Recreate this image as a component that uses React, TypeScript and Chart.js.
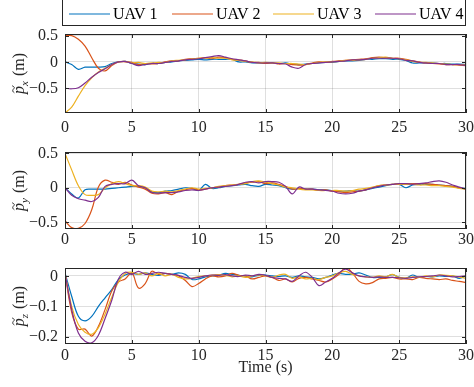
import React, { useEffect, useRef } from "react";
import { Chart, registerables } from "chart.js";

Chart.register(...registerables);

// ---------------- data ----------------
const TIME = [
  0, 0.5, 1, 1.5, 2, 2.5, 3, 3.5, 4, 4.5,
  5, 5.5, 6, 6.5, 7, 7.5, 8, 8.5, 9, 9.5,
  10, 10.5, 11, 11.5, 12, 12.5, 13, 13.5, 14, 14.5,
  15, 15.5, 16, 16.5, 17, 17.5, 18, 18.5, 19, 19.5,
  20, 20.5, 21, 21.5, 22, 22.5, 23, 23.5, 24, 24.5,
  25, 25.5, 26, 26.5, 27, 27.5, 28, 28.5, 29, 29.5, 30,
];

const SERIES_NAMES = ["UAV 1", "UAV 2", "UAV 3", "UAV 4"];

// p_x error
const PX_UAV1 = [
  0, -0.05, -0.14, -0.1, -0.1, -0.1, -0.09, -0.03, 0, 0.01,
  -0.03, -0.04, -0.05, -0.03, -0.03, -0.01, 0, 0.02, 0.03, 0.04,
  0.05, 0.04, 0.05, 0.05, 0.05, 0.05, 0, 0, -0.02, -0.02,
  -0.03, -0.02, -0.03, -0.02, -0.04, -0.05, -0.04, -0.03, -0.02, -0.01,
  -0.01, 0.01, 0.02, 0.02, 0.03, 0.05, 0.05, 0.06, 0.06, 0.05,
  0.05, 0.03, -0.02, -0.02, -0.02, -0.02, -0.03, -0.03, -0.04, -0.04, -0.05,
];
const PX_UAV2 = [
  0.5, 0.5, 0.43, 0.3, 0.08, -0.12, -0.17, -0.07, 0, 0,
  -0.01, -0.05, -0.03, -0.04, -0.03, 0, 0.02, 0.02, 0.05, 0.06,
  0.07, 0.08, 0.06, 0.09, 0.08, 0.05, 0.04, 0.02, -0.01, -0.01,
  -0.03, -0.02, -0.04, -0.03, -0.05, -0.06, -0.05, -0.02, 0, -0.01,
  0.01, 0.02, 0.03, 0.04, 0.05, 0.06, 0.08, 0.09, 0.08, 0.07,
  0.07, 0.05, 0.02, 0, -0.02, -0.03, -0.04, -0.05, -0.05, -0.06, -0.07,
];
const PX_UAV3 = [
  -0.97, -0.86, -0.65, -0.45, -0.3, -0.19, -0.12, -0.05, 0, 0.01,
  -0.02, -0.01, -0.03, -0.02, -0.01, -0.01, 0.02, 0.03, 0.04, 0.06,
  0.07, 0.07, 0.08, 0.07, 0.07, 0.04, 0.03, 0.01, 0, -0.02,
  -0.01, -0.02, -0.02, -0.03, -0.03, -0.04, -0.05, -0.03, -0.01, 0,
  0, 0.01, 0.03, 0.03, 0.04, 0.05, 0.07, 0.08, 0.09, 0.07,
  0.06, 0.04, 0.01, -0.01, -0.01, -0.02, -0.03, -0.04, -0.05, -0.05, -0.06,
];
const PX_UAV4 = [
  -0.5, -0.51, -0.49, -0.4, -0.29, -0.2, -0.13, -0.05, 0, 0.01,
  -0.03, -0.07, -0.05, -0.03, -0.03, -0.01, 0.01, 0.02, 0.04, 0.05,
  0.06, 0.08, 0.1, 0.12, 0.09, 0.06, 0.04, 0.02, -0.01, -0.02,
  -0.02, -0.02, -0.03, -0.04, -0.1, -0.12, -0.05, -0.03, -0.02, -0.01,
  0, 0.01, 0.02, 0.04, 0.04, 0.05, 0.07, 0.07, 0.07, 0.07,
  0.06, 0.03, 0.02, -0.01, -0.02, -0.03, -0.03, -0.05, -0.05, -0.05, -0.07,
];

// p_y error
const PY_UAV1 = [
  0, -0.09, -0.15, -0.03, -0.02, -0.02, -0.02, -0.01, 0, 0.01,
  0.02, 0.02, 0, -0.06, -0.07, -0.05, -0.04, -0.02, 0, -0.01,
  -0.04, 0.05, -0.01, 0, 0.02, 0.03, 0.04, 0.05, 0.03, 0.02,
  0.05, 0.04, 0.03, 0, -0.02, -0.01, -0.02, -0.02, -0.03, -0.03,
  -0.04, -0.05, -0.05, -0.04, -0.05, -0.03, -0.01, 0.01, 0.03, 0.05,
  0.05, 0, 0.04, 0.05, 0.05, 0.05, 0.04, 0.03, 0.02, 0, -0.01,
];
const PY_UAV2 = [
  -0.48, -0.58, -0.59, -0.52, -0.32, 0.01, 0.11, 0.08, 0.05, 0.08,
  0.04, 0.01, -0.02, -0.08, -0.09, -0.07, -0.1, -0.05, -0.03, -0.01,
  -0.03, -0.02, 0, 0.01, 0.03, 0.04, 0.05, 0.07, 0.08, 0.09,
  0.06, 0.07, 0.05, 0.02, -0.02, -0.01, -0.02, -0.02, -0.04, -0.03,
  -0.05, -0.06, -0.07, -0.06, -0.05, -0.03, 0, 0.03, 0.04, 0.05,
  0.06, 0.06, 0.06, 0.06, 0.06, 0.05, 0.04, 0.03, 0.02, 0, -0.02,
];
const PY_UAV3 = [
  0.5, 0.26, 0.03, -0.1, -0.11, -0.1, 0, 0.06, 0.09, 0.06,
  0.03, 0.03, 0.01, -0.05, -0.06, -0.05, -0.06, -0.04, -0.02, 0,
  -0.02, -0.01, 0, 0.02, 0.03, 0.04, 0.05, 0.06, 0.09, 0.1,
  0.08, 0.06, 0.04, 0.01, 0, -0.02, -0.03, -0.03, -0.04, -0.04,
  -0.04, -0.04, -0.05, -0.04, -0.02, -0.01, 0.01, 0.03, 0.04, 0.05,
  0.05, 0.05, 0.05, 0.04, 0.04, 0.03, 0.03, 0.02, 0.01, -0.01, -0.02,
];
const PY_UAV4 = [
  0, -0.11, -0.16, -0.18, -0.2, -0.14, 0.02, 0.05, 0.06, 0.06,
  0.11, 0.03, 0, -0.07, -0.08, -0.07, -0.07, -0.06, -0.04, -0.03,
  -0.04, -0.02, 0, 0.01, 0.02, 0.03, 0.05, 0.08, 0.09, 0.07,
  0.09, 0.09, 0.08, 0.02, -0.09, 0.01, -0.02, -0.02, -0.03, -0.04,
  -0.05, -0.08, -0.09, -0.08, -0.05, -0.03, 0, 0.02, 0.04, 0.05,
  0.06, 0.06, 0.05, 0.06, 0.07, 0.09, 0.1, 0.08, 0.04, 0.01, -0.02,
];

// p_z error
const PZ_UAV1 = [
  0.01, -0.067, -0.133, -0.148, -0.133, -0.1, -0.072, -0.045, -0.012, 0.003,
  0.008, 0.005, 0.01, 0.005, 0.002, 0.008, 0.005, 0.01, 0.005, -0.012,
  -0.01, -0.003, 0, 0.002, 0.008, 0.005, 0.002, 0, -0.003, 0.002,
  0.003, 0, -0.002, 0, -0.005, 0, -0.003, -0.005, -0.01, -0.005,
  0.003, 0.008, 0.005, 0.006, 0.01, 0.003, -0.005, -0.005, -0.003, 0.004,
  -0.005, -0.008, 0.003, -0.005, -0.002, -0.003, 0, -0.002, 0, -0.008, 0,
];
const PZ_UAV2 = [
  0.01, -0.12, -0.175, -0.175, -0.198, -0.166, -0.11, -0.05, -0.02, -0.01,
  0.01, -0.04, -0.025, 0.015, 0.005, 0.008, 0.005, 0, -0.015, -0.035,
  -0.025, -0.01, 0, -0.003, 0, 0.008, 0.002, 0, -0.01, -0.005,
  0, -0.005, -0.015, -0.01, -0.02, -0.008, -0.005, -0.01, -0.015, -0.02,
  -0.01, 0.005, 0.028, 0.01, -0.018, -0.026, -0.022, -0.01, -0.008, -0.005,
  -0.01, -0.01, -0.012, -0.005, -0.008, -0.01, -0.012, -0.01, -0.015, -0.018, -0.022,
];
const PZ_UAV3 = [
  0.01, -0.1, -0.16, -0.185, -0.192, -0.17, -0.125, -0.07, -0.02, 0.008,
  0.012, 0.005, 0.01, 0, 0.008, 0, 0.005, -0.005, -0.01, -0.008,
  -0.002, 0, 0.003, 0.004, 0.002, -0.003, 0, -0.005, 0, 0.003,
  0, -0.005, 0.003, 0.005, -0.008, -0.003, -0.01, -0.008, -0.012, -0.005,
  0, 0.01, 0.015, 0.005, 0, -0.003, -0.005, 0, -0.003, 0.005,
  -0.005, -0.006, -0.003, -0.005, 0, -0.003, 0.003, 0.002, 0, -0.004, -0.008,
];
const PZ_UAV4 = [
  0.01, -0.11, -0.188, -0.215, -0.22, -0.195, -0.14, -0.08, -0.01, 0.012,
  0.005, 0.015, 0.005, 0.008, 0.012, 0.008, 0.005, 0.002, -0.005, -0.008,
  -0.005, 0, 0.003, 0.002, 0.004, 0, -0.002, 0.003, 0, 0.005,
  0.002, -0.005, -0.008, -0.01, -0.018, 0, 0.012, -0.005, -0.032, -0.02,
  -0.008, 0.01, 0.022, 0.01, 0, -0.003, -0.005, -0.003, -0.005, -0.005,
  -0.006, -0.008, -0.005, -0.003, -0.002, 0, 0.003, 0, -0.003, -0.002, 0,
];

const X_TICKS = [0, 5, 10, 15, 20, 25, 30];
const X_TICK_LABELS = ["0", "5", "10", "15", "20", "25", "30"];
const PX_TICKS = [-0.5, 0, 0.5];
const PX_TICK_LABELS = ["\u22120.5", "0", "0.5"];
const PY_TICKS = [-0.5, 0, 0.5];
const PY_TICK_LABELS = ["\u22120.5", "0", "0.5"];
const PZ_TICKS = [-0.2, -0.1, 0];
const PZ_TICK_LABELS = ["\u22120.2", "\u22120.1", "0"];
const X_TITLE = "Time (s)";

// ---------------- styling / layout ----------------
const W = 474;
const H = 387;
const COLORS = ["#0072BD", "#D95319", "#EDB120", "#7E2F8E"];
const AXIS_COLOR = "#262626";
const GRID_COLOR = "rgba(38,38,38,0.15)";
const FONT = '"Liberation Serif", "Times New Roman", serif';
const PLOT_LEFT = 65;
const PLOT_RIGHT = 466;

type Panel = {
  series: number[][];
  top: number;
  bottom: number;
  min: number;
  max: number;
  ticks: number[];
  tickLabels: string[];
  sub: string;
  xLabelBaseline: number;
  legend: boolean;
  xTitle: boolean;
};

const PANELS: Panel[] = [
  {
    series: [PX_UAV1, PX_UAV2, PX_UAV3, PX_UAV4],
    top: 34, bottom: 113, min: -0.97, max: 0.53,
    ticks: PX_TICKS, tickLabels: PX_TICK_LABELS, sub: "x",
    xLabelBaseline: 131.5, legend: true, xTitle: false,
  },
  {
    series: [PY_UAV1, PY_UAV2, PY_UAV3, PY_UAV4],
    top: 152, bottom: 229, min: -0.6, max: 0.52,
    ticks: PY_TICKS, tickLabels: PY_TICK_LABELS, sub: "y",
    xLabelBaseline: 244, legend: false, xTitle: false,
  },
  {
    series: [PZ_UAV1, PZ_UAV2, PZ_UAV3, PZ_UAV4],
    top: 268, bottom: 344, min: -0.224, max: 0.026,
    ticks: PZ_TICKS, tickLabels: PZ_TICK_LABELS, sub: "z",
    xLabelBaseline: 359.5, legend: false, xTitle: true,
  },
];

function drawDecorations(chart: any, p: Panel) {
  const ctx: CanvasRenderingContext2D = chart.ctx;
  const a = chart.chartArea;
  const xs = chart.scales.x;
  const ys = chart.scales.y;
  ctx.save();

  // box
  ctx.strokeStyle = AXIS_COLOR;
  ctx.lineWidth = 1;
  ctx.strokeRect(a.left + 0.5, a.top + 0.5, a.right - a.left - 1, a.bottom - a.top - 1);

  // inward tick marks
  const TL = 4;
  ctx.beginPath();
  X_TICKS.forEach((v) => {
    const x = Math.round(xs.getPixelForValue(v)) + 0.5;
    ctx.moveTo(x, a.bottom);
    ctx.lineTo(x, a.bottom - TL);
    ctx.moveTo(x, a.top);
    ctx.lineTo(x, a.top + TL);
  });
  p.ticks.forEach((v) => {
    const y = Math.round(ys.getPixelForValue(v)) + 0.5;
    ctx.moveTo(a.left, y);
    ctx.lineTo(a.left + TL, y);
    ctx.moveTo(a.right, y);
    ctx.lineTo(a.right - TL, y);
  });
  ctx.stroke();

  // tick labels
  ctx.fillStyle = AXIS_COLOR;
  ctx.font = `16px ${FONT}`;
  ctx.textAlign = "center";
  ctx.textBaseline = "alphabetic";
  X_TICKS.forEach((v, i) => {
    ctx.fillText(X_TICK_LABELS[i], xs.getPixelForValue(v), p.xLabelBaseline);
  });
  ctx.textAlign = "right";
  ctx.textBaseline = "middle";
  p.ticks.forEach((v, i) => {
    ctx.fillText(p.tickLabels[i], a.left - 7, ys.getPixelForValue(v) + 0.5);
  });

  // y title: p~_sub (m), rotated
  const cy = (a.top + a.bottom) / 2;
  ctx.save();
  ctx.translate(24, cy);
  ctx.rotate(-Math.PI / 2);
  ctx.textAlign = "left";
  ctx.textBaseline = "alphabetic";
  const fMain = `italic 16px ${FONT}`;
  const fSub = `italic 11px ${FONT}`;
  const fUp = `16px ${FONT}`;
  ctx.font = fMain;
  const wp = ctx.measureText("p").width;
  ctx.font = fSub;
  const ws = ctx.measureText(p.sub).width;
  ctx.font = fUp;
  const wm = ctx.measureText(" (m)").width;
  const total = wp + ws + 1 + wm;
  let x0 = -total / 2;
  ctx.font = fMain;
  ctx.fillText("p", x0, 0);
  // tilde over p
  ctx.beginPath();
  ctx.lineWidth = 1;
  const tx = x0 + 1.2;
  const tw = 7;
  const ty = -10.5;
  ctx.moveTo(tx, ty + 0.8);
  ctx.bezierCurveTo(tx + tw * 0.25, ty - 1.8, tx + tw * 0.45, ty - 0.5, tx + tw * 0.55, ty);
  ctx.bezierCurveTo(tx + tw * 0.7, ty + 1.2, tx + tw * 0.85, ty + 1.2, tx + tw, ty - 1.3);
  ctx.stroke();
  x0 += wp;
  ctx.font = fSub;
  ctx.fillText(p.sub, x0, 3.5);
  x0 += ws + 1;
  ctx.font = fUp;
  ctx.fillText(" (m)", x0, 0);
  ctx.restore();

  if (p.xTitle) {
    ctx.font = `16px ${FONT}`;
    ctx.textAlign = "center";
    ctx.textBaseline = "alphabetic";
    ctx.fillText(X_TITLE, (a.left + a.right) / 2, 372);
  }

  if (p.legend) {
    ctx.fillStyle = "#ffffff";
    ctx.fillRect(62.5, -5, 403, 30.5);
    ctx.strokeStyle = AXIS_COLOR;
    ctx.lineWidth = 1;
    ctx.strokeRect(62.5, -5, 403, 30.5);
    const lineStarts = [69, 172, 273, 375];
    ctx.font = `16px ${FONT}`;
    ctx.textAlign = "left";
    ctx.textBaseline = "middle";
    SERIES_NAMES.forEach((name, i) => {
      const lx = lineStarts[i];
      ctx.strokeStyle = COLORS[i];
      ctx.lineWidth = 1.2;
      ctx.beginPath();
      ctx.moveTo(lx, 14);
      ctx.lineTo(lx + 41, 14);
      ctx.stroke();
      ctx.fillStyle = "#000000";
      ctx.fillText(name, lx + 44, 14.5);
    });
  }
  ctx.restore();
}

function PanelChart({ panel }: { panel: Panel }) {
  const ref = useRef<HTMLCanvasElement | null>(null);
  useEffect(() => {
    if (!ref.current) return;
    const datasets = panel.series.map((arr, i) => ({
      label: SERIES_NAMES[i],
      data: TIME.map((t, k) => ({ x: t, y: arr[k] })),
      borderColor: COLORS[i],
      backgroundColor: COLORS[i],
      borderWidth: 1.2,
      pointRadius: 0,
      tension: 0.35,
      fill: false,
      order: 3 - i,
    }));
    const chart = new Chart(ref.current, {
      type: "line",
      data: { datasets },
      options: {
        responsive: false,
        animation: false,
        devicePixelRatio: 1,
        events: [],
        layout: {
          padding: {
            left: PLOT_LEFT,
            right: W - PLOT_RIGHT,
            top: panel.top,
            bottom: H - panel.bottom,
          },
        },
        plugins: {
          legend: { display: false },
          tooltip: { enabled: false },
        },
        scales: {
          x: {
            type: "linear",
            min: 0,
            max: 30,
            afterBuildTicks: (s: any) => {
              s.ticks = X_TICKS.map((v) => ({ value: v }));
            },
            afterFit: (s: any) => {
              s.height = 0;
            },
            ticks: { display: false },
            grid: { color: GRID_COLOR, drawTicks: false, lineWidth: 1 },
            border: { display: false },
          },
          y: {
            type: "linear",
            min: panel.min,
            max: panel.max,
            afterBuildTicks: (s: any) => {
              s.ticks = panel.ticks.map((v) => ({ value: v }));
            },
            afterFit: (s: any) => {
              s.width = 0;
            },
            ticks: { display: false },
            grid: { color: GRID_COLOR, drawTicks: false, lineWidth: 1 },
            border: { display: false },
          },
        },
      } as any,
      plugins: [
        {
          id: "decor",
          afterDraw: (c: any) => drawDecorations(c, panel),
        },
      ],
    });
    return () => chart.destroy();
  }, [panel]);
  return (
    <canvas
      ref={ref}
      width={W}
      height={H}
      style={{ position: "absolute", left: 0, top: 0, width: W, height: H }}
    />
  );
}

export default function App() {
  return (
    <div
      style={{
        position: "fixed",
        left: 0,
        top: 0,
        width: W,
        height: H,
        background: "#ffffff",
        overflow: "hidden",
      }}
    >
      {PANELS.map((p, i) => (
        <PanelChart key={i} panel={p} />
      ))}
    </div>
  );
}
